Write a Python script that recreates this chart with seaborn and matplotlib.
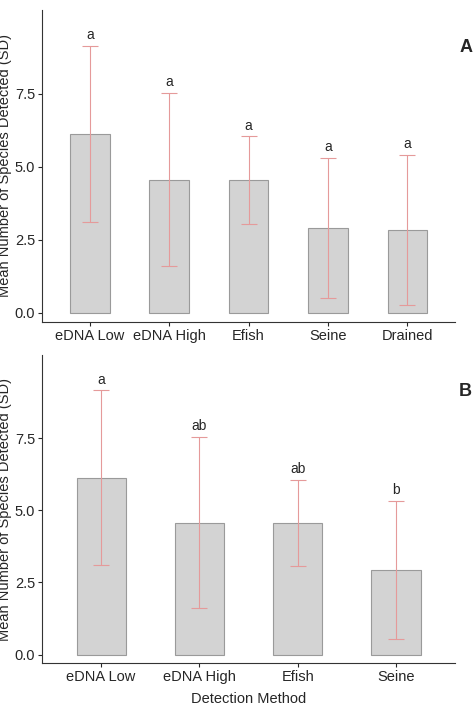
import numpy as np
import pandas as pd
import matplotlib
matplotlib.use("Agg")
import matplotlib.pyplot as plt
import seaborn as sns

methods_a = ["eDNA Low", "eDNA High", "Efish", "Seine", "Drained"]
means_a = [6.13, 4.57, 4.55, 2.92, 2.85]
sds_a = [3.03, 2.97, 1.50, 2.40, 2.57]
letters_a = ["a", "a", "a", "a", "a"]

methods_b = ["eDNA Low", "eDNA High", "Efish", "Seine"]
means_b = [6.13, 4.57, 4.55, 2.92]
sds_b = [3.03, 2.97, 1.50, 2.40]
letters_b = ["a", "ab", "ab", "b"]

sns.set_style("white")
plt.rcParams["font.family"] = ["Liberation Sans", "DejaVu Sans"]

fig = plt.figure(figsize=(4.74, 7.07), dpi=100)
ax_a = fig.add_axes([0.089, 0.545, 0.871, 0.441])
ax_b = fig.add_axes([0.089, 0.062, 0.871, 0.436])

def panel(ax, methods, means, sds, letters, tag, xlabel):
    df = pd.DataFrame({"Method": methods, "Mean": means})
    sns.barplot(data=df, x="Method", y="Mean", ax=ax, color="#d3d3d3",
                edgecolor="#9a9a9a", linewidth=0.8, width=0.5, errorbar=None,
                saturation=1)
    x = np.arange(len(methods))
    ax.errorbar(x, means, yerr=sds, fmt="none", ecolor="#e59a9a",
                elinewidth=0.8, capsize=6, capthick=0.8, zorder=5)
    for xi, m, s, l in zip(x, means, sds, letters):
        ax.text(xi, m + s + 0.12, l, ha="center", va="bottom", fontsize=10)
    ax.set_ylim(-0.3, 10.38)
    ax.set_xlim(-0.6, len(methods) - 0.4)
    ax.set_yticks([0, 2.5, 5.0, 7.5])
    ax.set_yticklabels(["0.0", "2.5", "5.0", "7.5"])
    ax.set_ylabel("Mean Number of Species Detected (SD)", fontsize=10.5,
                  labelpad=2)
    ax.set_xlabel(xlabel, fontsize=10.5, labelpad=6)
    ax.tick_params(axis="both", labelsize=10.5, length=3, pad=2,
                   left=True, bottom=True)
    for side in ["top", "right"]:
        ax.spines[side].set_visible(False)
    for side in ["left", "bottom"]:
        ax.spines[side].set_color("#333333")
        ax.spines[side].set_linewidth(0.8)
    ax.text(1.01, 0.88, tag, transform=ax.transAxes, fontsize=13,
            fontweight="bold", ha="left", va="center")

panel(ax_a, methods_a, means_a, sds_a, letters_a, "A", "")
panel(ax_b, methods_b, means_b, sds_b, letters_b, "B", "Detection Method")

fig.savefig("out.png", dpi=100)
